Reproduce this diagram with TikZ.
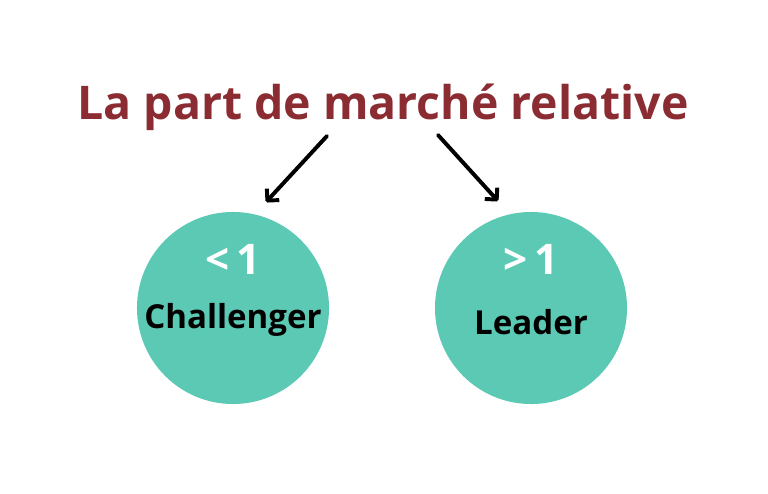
\documentclass[tikz,border=0pt]{standalone}
\usepackage{fontspec}
\setmainfont{Open Sans}
\usetikzlibrary{arrows.meta}
\definecolor{titlered}{HTML}{8B2C33}
\definecolor{bubbleteal}{HTML}{5CC9B5}

\tikzset{
  bubble/.style={circle, fill=bubbleteal, minimum size=4.8cm, inner sep=0pt},
  ratio/.style={text=white, font=\fontsize{30}{30}\selectfont\bfseries},
  role/.style={text=black, font=\fontsize{23.5}{23.5}\selectfont\bfseries},
  pointer/.style={->, line width=2.8pt, line cap=round, black}
}

\begin{document}
\begin{tikzpicture}[x=0.025cm, y=-0.025cm,
  >={Straight Barb[length=6pt, width=12pt, line join=round]}]

\useasboundingbox (0,0) rectangle (768,493);

%==== titre ====
\node[anchor=base, text=titlered, font=\fontsize{33}{33}\selectfont\bfseries]
  (title) at (383,119) {La part de marché relative};

%==== cercles ====
\node[bubble] (challenger) at (233,308) {};
\node[bubble] (leader) at (531,308) {};

\node[ratio] (lt) at (233,259) {<\,1};
\node[role] (cname) at (233,320) {Challenger};
\node[ratio] (gt) at (531,259) {>\,1};
\node[role] (lname) at (531,322) {Leader};

%==== fleches ====
\coordinate (la) at (327,136);
\coordinate (lb) at (266,202);
\coordinate (ra) at (438,135);
\coordinate (rb) at (498,201);
\draw[pointer] (la) -- (lb);
\draw[pointer] (ra) -- (rb);

\end{tikzpicture}
\end{document}
